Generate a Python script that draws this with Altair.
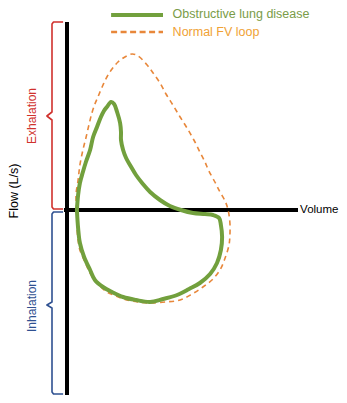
import altair as alt
import pandas as pd

# ---- data (volume in L, flow in L/s) ----
obs_volume = [0.33, 0.37, 0.43, 0.53, 0.63, 0.77, 0.87, 1.00, 1.13, 1.23, 1.33, 1.47, 1.57, 1.67,
              1.77, 1.80, 1.80, 1.87, 1.97, 2.10, 2.30, 2.53, 2.77, 3.10, 3.43, 3.80, 4.20, 4.60,
              4.87, 5.07, 5.13, 5.17, 5.13, 5.00, 4.77, 4.43, 4.07, 3.67, 3.20, 2.77, 2.30, 1.87,
              1.50, 1.20, 0.93, 0.77, 0.57, 0.43, 0.37, 0.33]
obs_flow = [0, 0.75, 1.35, 1.9, 2.4, 3.0, 3.65, 4.15, 4.65, 4.95, 5.15, 5.4, 5.3, 4.9, 4.35, 3.9,
            3.5, 3.0, 2.6, 2.25, 1.75, 1.3, 0.9, 0.5, 0.2, 0, -0.15, -0.2, -0.25, -0.4, -0.75,
            -1.35, -2.0, -2.65, -3.2, -3.65, -3.95, -4.25, -4.45, -4.6, -4.5, -4.35, -4.1, -3.85,
            -3.5, -3.0, -2.35, -1.65, -0.9, 0]

normal_volume = [0.33, 0.30, 0.37, 0.43, 0.53, 0.63, 0.73, 0.83, 0.93, 1.03, 1.17, 1.33, 1.50, 1.70,
                 1.93, 2.17, 2.37, 2.67, 2.87, 3.10, 3.30, 3.53, 3.77, 4.00, 4.23, 4.43, 4.60, 4.73,
                 4.93, 5.10, 5.27, 5.37, 5.43, 5.43, 5.40, 5.27, 5.10, 4.83, 4.53, 4.17, 3.77, 3.27,
                 2.77, 2.37, 2.00, 1.63, 1.33, 1.00, 0.77, 0.60, 0.43, 0.37, 0.33, 0.33]
normal_flow = [0, 0.75, 1.5, 2.25, 3.0, 3.6, 4.25, 4.85, 5.3, 5.65, 6.15, 6.65, 7.05, 7.4, 7.65, 7.8,
               7.7, 7.25, 6.85, 6.35, 5.8, 5.25, 4.65, 4.1, 3.5, 2.9, 2.4, 1.95, 1.4, 0.9, 0.45, 0,
               -0.65, -1.25, -1.75, -2.4, -3.0, -3.5, -3.85, -4.2, -4.5, -4.6, -4.65, -4.6, -4.5,
               -4.3, -4.1, -3.65, -3.15, -2.6, -2.0, -1.5, -0.75, 0]

series_names = ["Obstructive lung disease", "Normal FV loop"]
phase_names = ["Exhalation", "Inhalation"]
axis_titles = ["Flow (L/s)", "Volume"]

# axis extents
flow_axis = [9.4, -9.4]
volume_axis = [-0.1, 7.7]

# brackets (volume, flow)
exh_bracket_v = [-0.13, -0.45, -0.5, -0.5, -0.67, -0.5, -0.5, -0.45, -0.13]
exh_bracket_f = [9.4, 9.4, 9.3, 4.9, 4.7, 4.5, 0.15, 0.05, 0.05]
inh_bracket_v = [-0.13, -0.45, -0.5, -0.5, -0.67, -0.5, -0.5, -0.45, -0.13]
inh_bracket_f = [-0.1, -0.1, -0.2, -4.6, -4.75, -4.9, -9.1, -9.2, -9.2]

# ---- styling ----
GREEN = "#72a03d"
GREEN_TXT = "#7a9c48"
ORANGE = "#e8873a"
ORANGE_TXT = "#f0a235"
RED = "#d0312d"
BLUE = "#2f5191"
FONT = "Liberation Sans"

W, H = 331, 387
xs = alt.Scale(domain=[-59 / 30, (W - 59) / 30], nice=False, zero=False)
ys = alt.Scale(domain=[-(H - 202) / 20, 202 / 20], nice=False, zero=False)


def X(f="v"):
    return alt.X(f"{f}:Q", scale=xs, axis=None)


def Y(f="f"):
    return alt.Y(f"{f}:Q", scale=ys, axis=None)


# axes
vaxis = alt.Chart(pd.DataFrame({"v": [0], "f": [flow_axis[0]], "f2": [flow_axis[1]]})).mark_rule(
    color="black", strokeWidth=4).encode(x=X(), y=Y(), y2="f2:Q")
haxis = alt.Chart(pd.DataFrame({"v": [volume_axis[0]], "v2": [volume_axis[1]], "f": [0]})).mark_rule(
    color="black", strokeWidth=4).encode(x=X(), x2="v2:Q", y=Y())


# brackets
def bracket(vs, fs, color):
    df = pd.DataFrame({"v": vs, "f": fs, "i": range(len(vs))})
    return alt.Chart(df).mark_line(color=color, strokeWidth=1.6, strokeJoin="round").encode(
        x=X(), y=Y(), order="i:Q")


exh_b = bracket(exh_bracket_v, exh_bracket_f, RED)
inh_b = bracket(inh_bracket_v, inh_bracket_f, BLUE)

# loops
norm_df = pd.DataFrame({"v": normal_volume, "f": normal_flow, "i": range(len(normal_volume))})
norm = alt.Chart(norm_df).mark_line(color=ORANGE, strokeWidth=1.6, strokeDash=[5, 4],
                                    interpolate="catmull-rom").encode(x=X(), y=Y(), order="i:Q")
obs_df = pd.DataFrame({"v": obs_volume, "f": obs_flow, "i": range(len(obs_volume))})
obs = alt.Chart(obs_df).mark_line(color=GREEN, strokeWidth=4, strokeJoin="round", strokeCap="round",
                                  interpolate="catmull-rom").encode(x=X(), y=Y(), order="i:Q")

# legend
leg_g = alt.Chart(pd.DataFrame({"v": [1.47], "v2": [3.2], "f": [9.75]})).mark_rule(
    color=GREEN, strokeWidth=4).encode(x=X(), x2="v2:Q", y=Y())
leg_o = alt.Chart(pd.DataFrame({"v": [1.47], "v2": [3.2], "f": [8.9]})).mark_rule(
    color=ORANGE, strokeWidth=2.5, strokeDash=[6, 3.5]).encode(x=X(), x2="v2:Q", y=Y())
leg_gt = alt.Chart(pd.DataFrame({"v": [3.52], "f": [9.6], "t": [series_names[0]]})).mark_text(
    align="left", baseline="alphabetic", font=FONT, fontSize=12.5, color=GREEN_TXT).encode(
    x=X(), y=Y(), text="t:N")
leg_ot = alt.Chart(pd.DataFrame({"v": [3.52], "f": [8.715], "t": [series_names[1]]})).mark_text(
    align="left", baseline="alphabetic", font=FONT, fontSize=12.5, color=ORANGE_TXT).encode(
    x=X(), y=Y(), text="t:N")

# labels
vol_t = alt.Chart(pd.DataFrame({"v": [7.77], "f": [0], "t": [axis_titles[1]]})).mark_text(
    align="left", baseline="middle", font=FONT, fontSize=11.5, color="black").encode(
    x=X(), y=Y(), text="t:N")
flow_t = alt.Chart(pd.DataFrame({"v": [-1.77], "f": [0.95], "t": [axis_titles[0]]})).mark_text(
    align="center", baseline="middle", angle=270, font=FONT, fontSize=12.5, color="black").encode(
    x=X(), y=Y(), text="t:N")
exh_t = alt.Chart(pd.DataFrame({"v": [-1.17], "f": [4.7], "t": [phase_names[0]]})).mark_text(
    align="center", baseline="middle", angle=270, font=FONT, fontSize=12, color=RED).encode(
    x=X(), y=Y(), text="t:N")
inh_t = alt.Chart(pd.DataFrame({"v": [-1.17], "f": [-4.8], "t": [phase_names[1]]})).mark_text(
    align="center", baseline="middle", angle=270, font=FONT, fontSize=12, color=BLUE).encode(
    x=X(), y=Y(), text="t:N")

chart = alt.layer(
    vaxis, haxis, exh_b, inh_b, norm, obs, leg_g, leg_o, leg_gt, leg_ot, vol_t, flow_t, exh_t, inh_t
).properties(
    width=W, height=H, padding=0, autosize=alt.AutoSizeParams(type="none"), background="white"
).configure_view(stroke=None)

chart.save("out.html", embed_options={"renderer": "svg", "actions": False})
